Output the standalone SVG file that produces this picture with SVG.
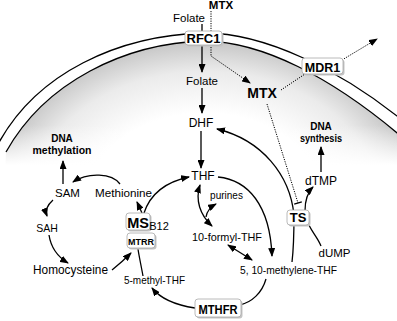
<svg xmlns="http://www.w3.org/2000/svg" width="397" height="321" viewBox="0 0 397 321">
<style>
text{font-family:"Liberation Sans",Arial,sans-serif;fill:#000}
.r{font-size:12px}
.b{font-weight:bold}
.ln{fill:none;stroke:#000;stroke-width:1.3}
.dt{fill:none;stroke:#000;stroke-width:1;stroke-dasharray:1.2 1.2}
.box{fill:#fff;stroke:#a8a8a8;stroke-width:0.8}
.sh{fill:#c4c4c4}
.mem{fill:none;stroke:#000;stroke-width:1.3}
</style>
<defs>
<marker id="a" markerUnits="userSpaceOnUse" markerWidth="9" markerHeight="7" refX="8" refY="3.5" orient="auto-start-reverse">
<path d="M0,0 L9,3.5 L0,7 Z" fill="#000"/>
</marker>
<radialGradient id="g" gradientUnits="userSpaceOnUse" cx="205" cy="205" r="190" gradientTransform="translate(205,205) scale(1.15,0.88) translate(-205,-205)">
<stop offset="0.55" stop-color="#fff"/>
<stop offset="0.8" stop-color="#ebebeb"/>
<stop offset="1" stop-color="#c2c2c2"/>
</radialGradient>
<linearGradient id="f" gradientUnits="userSpaceOnUse" x1="0" y1="125" x2="0" y2="165">
<stop offset="0" stop-color="#fff" stop-opacity="0"/>
<stop offset="1" stop-color="#fff" stop-opacity="1"/>
</linearGradient>
</defs>
<rect width="397" height="321" fill="#fff"/>
<g id="cell">
<path d="M6,152 C45,82 125,43 205,41 C262,42 330,76 402,137 L402,321 L0,321 Z" fill="url(#g)"/>
<rect x="0" y="120" width="397" height="201" fill="url(#f)"/>
<path class="mem" d="M-4,148 C35,72 120,35 205,33 C265,33 340,70 402,120"/>
<path class="mem" d="M6,152 C45,82 125,43 205,41 C262,42 330,76 402,137"/>
</g>
<g id="connectors">
<path class="ln" d="M202,24 L202,72" marker-end="url(#a)"/>
<path class="ln" d="M202,88 L202,113" marker-end="url(#a)"/>
<path class="ln" d="M201,131 L201,168" marker-end="url(#a)"/>
<path class="dt" d="M211,11 L211,56 L250,83" marker-end="url(#a)"/>
<path class="dt" d="M281,90 L305,74"/>
<path class="dt" d="M342,60 L377,39" marker-end="url(#a)"/>
<path class="dt" d="M267,104 L298,203"/>
<path class="ln" stroke-width="1" d="M294.2,204.2 L301.8,201.8"/>
<path class="ln" d="M200,185 C195,200 200,215 212,226" marker-start="url(#a)" marker-end="url(#a)"/>
<path class="ln" d="M206,217 Q207,209 216,204" marker-end="url(#a)"/>
<path class="ln" d="M228,245 L252,260" marker-start="url(#a)" marker-end="url(#a)"/>
<path class="ln" d="M218,177 C248,180 270,205 272,256" marker-end="url(#a)"/>
<path class="ln" d="M292,262 C294,245 294,230 294,215 C290,175 262,140 217,129" marker-end="url(#a)"/>
<path class="ln" d="M305,211 C305,200 307,193 313,187" marker-end="url(#a)"/>
<path class="ln" d="M321,172 L321,147" marker-end="url(#a)"/>
<path class="ln" d="M321,246 C318,238 312,232 309,225"/>
<path class="ln" d="M266,279 C262,293 252,302 240,305"/>
<path class="ln" d="M195,308 C175,305 160,298 152,288" marker-end="url(#a)"/>
<path class="ln" d="M143,276 C141,265 139,256 138,249"/>
<path class="ln" d="M112,270 Q122,262 131,253" marker-end="url(#a)"/>
<path class="ln" d="M142,213 L137,202" marker-end="url(#a)"/>
<path class="ln" d="M144,213 C150,195 165,182 189,177" marker-end="url(#a)"/>
<path class="ln" d="M120,184 C112,173 88,172 73,182" marker-end="url(#a)"/>
<path class="ln" d="M63,184 L63,161" marker-end="url(#a)"/>
<path class="ln" d="M53,200 Q44,208 47,216" marker-end="url(#a)"/>
<path class="ln" d="M49,235 C51,248 58,257 68,263" marker-end="url(#a)"/>
</g>
<g id="MTX-top"><text class="b" x="221" y="9" font-size="11.5" text-anchor="middle">MTX</text></g>
<g id="Folate-out"><text x="189" y="22" font-size="11.5" text-anchor="middle">Folate</text></g>
<g id="RFC1"><rect class="sh" x="186.5" y="32.5" width="37" height="14" rx="3"/><rect class="box" x="185" y="31" width="37" height="14" rx="3"/><text class="b" x="203.5" y="43" font-size="13" text-anchor="middle">RFC1</text></g>
<g id="MDR1"><rect class="sh" x="303.5" y="59.5" width="41" height="16" rx="3"/><rect class="box" x="302" y="58" width="41" height="16" rx="3"/><text class="b" x="322.5" y="72" font-size="12.5" text-anchor="middle">MDR1</text></g>
<g id="Folate-in"><text x="202" y="85" font-size="11.5" text-anchor="middle">Folate</text></g>
<g id="MTX-in"><text class="b" x="262" y="98" font-size="14" text-anchor="middle">MTX</text></g>
<g id="DHF"><text class="r" x="201" y="127" text-anchor="middle">DHF</text></g>
<g id="THF"><text class="r" x="203" y="180" text-anchor="middle">THF</text></g>
<g id="DNA-synthesis"><text class="b" x="321" y="130" font-size="10" text-anchor="middle">DNA</text><text class="b" x="321" y="142" font-size="10" text-anchor="middle" textLength="42" lengthAdjust="spacingAndGlyphs">synthesis</text></g>
<g id="dTMP"><text class="r" x="321" y="185" text-anchor="middle">dTMP</text></g>
<g id="TS"><rect class="sh" x="288.5" y="211.5" width="22" height="15" rx="3"/><rect class="box" x="287" y="210" width="22" height="15" rx="3"/><text class="b" x="298" y="222" font-size="13" text-anchor="middle">TS</text></g>
<g id="dUMP"><text x="334.5" y="257" font-size="11.5" text-anchor="middle">dUMP</text></g>
<g id="DNA-methylation"><text class="b" x="62" y="142" font-size="10" text-anchor="middle">DNA</text><text class="b" x="62" y="154" font-size="10.5" text-anchor="middle">methylation</text></g>
<g id="SAM"><text x="67.5" y="197" font-size="11.5" text-anchor="middle">SAM</text></g>
<g id="Methionine"><text x="123.5" y="197" font-size="11.5" text-anchor="middle" textLength="57" lengthAdjust="spacingAndGlyphs">Methionine</text></g>
<g id="purines"><text x="226.5" y="199" font-size="10" text-anchor="middle">purines</text></g>
<g id="MS"><rect class="sh" x="127.5" y="214.5" width="24" height="17" rx="3"/><rect class="box" x="126" y="213" width="24" height="17" rx="3"/><text class="b" x="138" y="228" font-size="14.5" text-anchor="middle">MS</text></g>
<g id="B12"><text x="159" y="230" font-size="11" text-anchor="middle">B12</text></g>
<g id="MTRR"><rect class="sh" x="128.5" y="234.5" width="28" height="15" rx="3"/><rect class="box" x="127" y="233" width="28" height="15" rx="3"/><text class="b" x="141" y="245" font-size="9" text-anchor="middle">MTRR</text></g>
<g id="SAH"><text x="47" y="232" font-size="10.5" text-anchor="middle">SAH</text></g>
<g id="formylTHF"><text x="227" y="241" font-size="11" text-anchor="middle" textLength="70" lengthAdjust="spacingAndGlyphs">10-formyl-THF</text></g>
<g id="Homocysteine"><text x="70.5" y="274" font-size="12" text-anchor="middle" textLength="75" lengthAdjust="spacingAndGlyphs">Homocysteine</text></g>
<g id="methyleneTHF"><text x="288.5" y="274" font-size="11.5" text-anchor="middle" textLength="97" lengthAdjust="spacingAndGlyphs">5, 10-methylene-THF</text></g>
<g id="methylTHF"><text x="154.5" y="284" font-size="11" text-anchor="middle" textLength="61" lengthAdjust="spacingAndGlyphs">5-methyl-THF</text></g>
<g id="MTHFR"><rect class="sh" x="196.5" y="300.5" width="46" height="18" rx="3"/><rect class="box" x="195" y="299" width="46" height="18" rx="3"/><text class="b" x="218" y="313.5" font-size="13" text-anchor="middle" textLength="39" lengthAdjust="spacingAndGlyphs">MTHFR</text></g>
</svg>
